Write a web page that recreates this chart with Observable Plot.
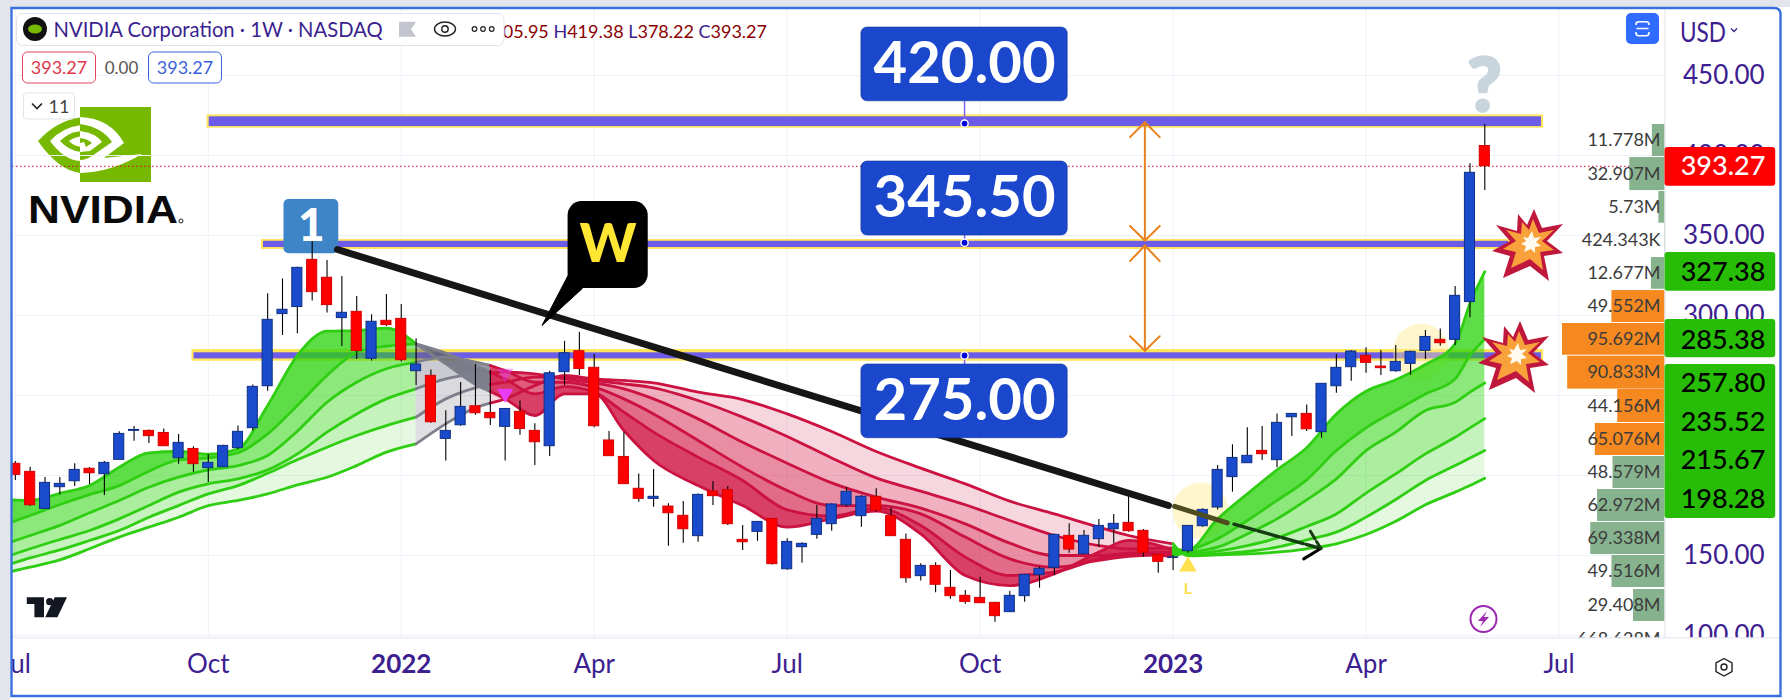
<!DOCTYPE html>
<html><head><meta charset="utf-8">
<script src="https://cdn.jsdelivr.net/npm/d3@7"></script>
<script src="https://cdn.jsdelivr.net/npm/@observablehq/plot@0.6"></script>
<style>
html,body{margin:0;padding:0;background:#fff;width:1790px;height:700px;overflow:hidden}
#wrap{position:relative;width:1790px;height:700px}
#under,#over{position:absolute;left:0;top:0}
#under{z-index:0}#over{z-index:2;pointer-events:none}
#chart{position:absolute;left:0;top:0;z-index:1}
#chart svg{display:block}
text{font-family:Lato,sans-serif}
</style></head><body>
<div id="wrap">
<svg id="under" width="1790" height="700" viewBox="0 0 1790 700">
  <defs>
    <clipPath id="lh"><rect x="30" y="100" width="50" height="90"/></clipPath>
    <clipPath id="rh"><rect x="80" y="100" width="75" height="90"/></clipPath>
  </defs>
  <rect x="80" y="107" width="71" height="75" fill="#76b900"/>
  <g clip-path="url(#lh)">
    <path d="M38,141 Q58,119 84,117 Q110,118 124,143 L142,154 Q112,172 80,173 Q58,170 38,141Z" fill="#76b900"/>
    <path d="M50,141 Q64,126 84,125 Q100,128 110,141 Q96,160 80,161 Q64,160 50,141Z" fill="#fff"/>
    <path d="M60,141 Q70,131 84,131 L84,152 Q70,152 60,141Z" fill="#76b900"/>
    <path d="M69,141 Q74,137 84,136 L84,147 Q74,147 69,141Z" fill="#fff"/>
  </g>
  <g clip-path="url(#rh)">
    <path d="M38,141 Q58,119 80,117 Q110,118 124,143 L104,158 L142,154 Q112,172 80,173Z" fill="#fff"/>
    <path d="M60,141 Q70,127 80,124 Q102,127 112,142 L92,156 Q86,160 80,160Z" fill="#76b900"/>
    <path d="M80,131 Q96,133 102,142 L90,151 L80,152Z" fill="#fff"/>
    <path d="M80,138 Q88,139 92,143 L86,147 L84,142 L80,143Z" fill="#76b900"/>
  </g>
  <text x="28" y="223" font-size="38" font-weight="900" fill="#0a0a0a" textLength="150" lengthAdjust="spacingAndGlyphs" style="font-family:'Liberation Sans'">NVIDIA</text>
  <circle cx="181" cy="221" r="2" fill="none" stroke="#222"/>
  <path d="M26.8,597.3H44V617.3H34.4V604H26.8Z M67,597.3L57.4,617.3H45.2L54.7,597.3Z" fill="#131722"/>
  <circle cx="49.7" cy="601.7" r="3.6" fill="#131722"/>
</svg>
<div id="chart"></div>
<svg id="over" width="1790" height="700" viewBox="0 0 1790 700">
  <defs>
    <g id="boom">
      <polygon points="3,-33 11,-14 32,-18 16,-1 32,11 13,14 18,39 -1,24 -28,36 -21,14 -39,9 -21,-1 -35,-17 -14,-11 -13,-28 -4,-17" fill="#c0183c"/>
      <polygon points="2,-23 8,-9 23,-12 11,-1 23,8 9,10 12,28 -1,17 -20,26 -15,10 -28,7 -15,-1 -25,-12 -10,-8 -9,-20 -2,-12" fill="#f9a23c"/>
      <polygon points="1,-11 3,-4 10,-5 5,0 10,4 4,5 4,11 0,7 -7,10 -5,4 -10,2 -5,-1 -8,-5 -3,-4" fill="#fffbee"/>
    </g>
  </defs>
  <use href="#boom" x="1531" y="242"/>
  <use href="#boom" x="1517" y="354"/>
  <circle cx="1483.5" cy="619" r="13" fill="#fff" stroke="#9c27b0" stroke-width="2"/>
  <path d="M1487,611L1478,621H1483L1480,627L1489,617H1484Z" fill="#9c27b0"/>

  <rect x="0" y="0" width="10" height="700" fill="#e2e5ec"/>
  <rect x="0" y="0" width="1790" height="7" fill="#e2e5ec"/>
  <path d="M11.5,696V8H1774Q1780.5,8 1780.5,14V696Z" fill="none" stroke="#3b6fdc" stroke-width="2.4"/>

  <text text-anchor="end" x="767" y="38" font-size="18"><tspan fill="#3d2090">O</tspan><tspan fill="#8b0000">405.95 </tspan><tspan fill="#3d2090">H</tspan><tspan fill="#8b0000">419.38 </tspan><tspan fill="#3d2090">L</tspan><tspan fill="#8b0000">378.22 </tspan><tspan fill="#3d2090">C</tspan><tspan fill="#8b0000">393.27</tspan></text>
  <rect x="16.5" y="13.5" width="487.5" height="32" rx="6" fill="#fff" stroke="#e0e3eb"/>
  <circle cx="35" cy="29" r="12" fill="#111"/>
  <ellipse cx="35" cy="29" rx="7" ry="4.5" fill="#76b900"/>
  <text x="53.6" y="37" font-size="21" fill="#3b1f8f" textLength="329" lengthAdjust="spacingAndGlyphs">NVIDIA Corporation · 1W · NASDAQ</text>
  <path d="M399,21.7H416L411,29.2L416,36.7H399Z" fill="#c3c6ce"/>
  <ellipse cx="445" cy="29" rx="10.5" ry="7" fill="none" stroke="#222" stroke-width="1.4"/>
  <circle cx="445" cy="29" r="3.2" fill="none" stroke="#222" stroke-width="1.4"/>
  <circle cx="474.5" cy="29" r="2.3" fill="none" stroke="#222" stroke-width="1.2"/>
  <circle cx="483" cy="29" r="2.3" fill="none" stroke="#222" stroke-width="1.2"/>
  <circle cx="491.7" cy="29" r="2.3" fill="none" stroke="#222" stroke-width="1.2"/>

  <rect x="22.5" y="52" width="73" height="31" rx="5" fill="#fff" stroke="#e2445c"/>
  <text x="59" y="74" text-anchor="middle" font-size="18" fill="#e0354a">393.27</text>
  <text x="121.5" y="74" text-anchor="middle" font-size="17" fill="#555">0.00</text>
  <rect x="148.5" y="52" width="73" height="31" rx="5" fill="#fff" stroke="#3a62d8"/>
  <text x="185" y="74" text-anchor="middle" font-size="18" fill="#3a62d8">393.27</text>
  <rect x="23.5" y="93" width="51" height="26" rx="3" fill="#fff" stroke="#e0e3eb"/>
  <path d="M32,103.5L37,108.5L42,103.5" fill="none" stroke="#222" stroke-width="1.6"/>
  <text x="59" y="113" text-anchor="middle" font-size="18" fill="#444">11</text>

  <rect x="1626" y="13" width="33" height="31" rx="5" fill="#2f6bff"/>
  <path d="M1636,25V24Q1636,21.7 1639,21.7H1646Q1649,21.7 1649,24V25 M1636,32V33Q1636,35.7 1639,35.7H1646Q1649,35.7 1649,33V32 M1636.5,28.5H1648.5" fill="none" stroke="#fff" stroke-width="1.6"/>
  <text x="1680" y="42" font-size="27" fill="#3d2090" textLength="46" lengthAdjust="spacingAndGlyphs">USD</text>
  <path d="M1731,28.5L1734,31.5L1737,28.5" fill="none" stroke="#3d2090" stroke-width="1.3"/>
  <path d="M1724,658.5L1732,663V671.5L1724,676L1716,671.5V663Z" fill="none" stroke="#222" stroke-width="1.4"/>
  <circle cx="1724" cy="667" r="3" fill="none" stroke="#222" stroke-width="1.4"/>
</svg>
</div>
<script>
// Weekly bars, week 0 is the bar of 4 Oct 2021
const firstWeek = -13;
const opens = [
207.3,202.3,179.1,192.7,196.4,204.2,200.8,209.8,227.9,227.9,
226.6,210.8,216.6,204.6,205.2,217.1,229.6,255.8,300.9,305.3,
334.8,323.6,298.4,302.3,273.0,296.7,297.9,265.2,262.3,222.9,
231.4,243.3,239.1,230.4,239.8,227.9,218.3,264.6,277.7,267.3,
221.9,211.6,191.7,185.4,180.6,174.8,162.1,190.0,191.0,159.8,
164.8,172.9,141.4,155.2,162.9,169.6,181.4,174.6,186.7,174.6,
159.8,137.1,143.5,129.8,124.8,123.5,120.4,114.6,124.6,137.7,
142.3,162.3,150.8,160.2,166.4,170.4,165.4,150.4,148.5,152.7,
168.3,180.0,199.0,207.7,215.4,209.6,236.4,238.5,227.1,255.8,
267.7,274.8,268.1,265.2,269.8,277.9,284.8,284.8,308.4,405.95];
const highs = [
208.7,205.2,198.7,198.7,207.3,205.0,208.7,227.3,230.6,228.5,
229.1,225.6,217.9,213.1,218.9,231.0,256.6,313.6,322.9,330.2,
346.3,334.4,324.4,311.9,300.5,313.2,306.9,285.5,266.0,240.4,
258.1,269.4,265.6,241.6,246.6,232.3,265.2,283.9,289.6,275.6,
227.5,226.9,201.0,203.7,182.3,183.7,188.5,196.2,193.1,168.7,
171.0,172.9,160.4,157.9,181.2,182.3,192.5,187.5,191.7,179.6,
163.5,144.8,145.4,140.6,128.1,136.4,120.8,127.5,138.1,142.7,
163.5,169.8,165.6,172.5,175.6,187.1,166.2,150.6,150.0,168.7,
179.2,206.2,219.2,229.8,230.6,238.5,238.5,244.1,257.3,275.6,
278.1,279.8,278.1,281.2,277.7,290.6,291.6,318.2,394.8,419.38];
const lows = [
196.9,180.6,179.1,187.9,193.1,194.4,187.5,209.8,221.4,220.0,
218.3,207.1,202.1,195.6,205.2,216.2,227.9,252.7,287.5,288.6,
309.0,301.5,280.7,272.5,271.5,293.2,270.9,256.2,232.7,209.0,
230.8,237.7,231.2,209.0,225.2,206.2,211.9,256.2,262.5,229.8,
212.1,194.6,183.3,180.2,155.8,157.7,158.3,181.2,168.7,153.1,
158.9,144.0,140.8,145.2,160.2,165.2,180.2,167.7,177.1,162.1,
132.7,134.0,126.7,122.7,119.6,120.2,108.3,114.6,120.8,129.6,
137.7,151.4,150.8,155.2,157.3,164.6,149.0,138.9,140.6,151.4,
167.7,178.5,189.6,207.7,209.4,204.8,224.4,227.5,223.3,251.4,
258.9,263.9,262.5,264.6,262.7,272.5,280.8,281.3,298.6,378.22];
const closes = [
200.4,181.4,195.4,194.8,203.5,201.4,207.9,226.0,228.5,224.6,
218.3,220.4,207.1,207.9,218.5,227.3,255.4,297.3,303.6,329.8,
314.6,306.5,301.7,277.8,296.1,294.0,272.1,269.4,233.3,227.9,
242.9,238.9,235.8,241.6,229.1,220.8,263.9,276.4,266.6,230.8,
212.1,194.6,185.4,186.7,176.4,166.4,187.9,187.1,169.6,158.3,
171.0,144.6,158.5,157.3,172.9,181.9,189.8,186.7,178.1,162.1,
135.8,143.5,131.7,124.6,121.0,120.2,112.1,124.8,137.9,141.7,
162.9,153.7,162.3,168.5,169.8,165.2,151.7,146.0,148.8,168.5,
178.5,203.5,211.0,212.3,213.3,232.9,238.5,228.9,257.3,267.3,
277.5,270.4,267.1,271.0,277.3,286.6,282.7,312.3,389.2,393.27];

// Moving-average ribbon read at these weeks
const ribbonWeeks = [-14,-12,-10,-8,-6,-4,-2,0,2,4,6,8,10,12,14, 16,18,19,
 20,22,24,26,28,30,33,36,39,42,45,48,51,54,57,60,62,65,
 66,68,70,72,74,76,78,80,82,84,85,86];
const ribbon1 = [185.0,184.4,188.9,193.7,205.2,214.2,215.0,213.3,216.7,243.8,275.0,290.2,290.6,292.1,282.3, 269.8,256.9,252.5,
 247.9,237.5,251.0,251.0,228.1,209.4,193.7,181.2,167.7,172.9,177.7,163.5,137.5,131.2,138.5,152.1,159.4,153.5,
 153.5,172.9,188.5,203.5,217.3,238.5,252.7,259.8,269.4,282.3,307.5,327.38];
const ribbon2 = [168.3,175.0,181.9,188.1,193.7,202.7,209.8,211.0,214.2,226.0,243.8,262.5,277.1,280.8,282.3, 276.5,268.8,264.6,
 260.4,251.0,255.6,252.1,239.6,227.1,211.5,196.9,178.5,174.6,179.8,168.8,149.0,137.5,139.6,147.9,151.0,149.4,
 152.7,160.4,171.9,184.4,197.3,215.6,229.8,240.6,251.0,260.4,275.0,285.38];
const ribbon3 = [156.2,162.5,168.8,176.7,184.4,192.7,199.0,203.5,206.2,212.5,227.7,245.8,258.3,266.7,270.8, 274.0,270.8,268.8,
 265.6,258.3,258.3,255.2,247.9,238.5,221.9,205.2,190.6,181.2,181.2,176.0,161.5,147.9,142.7,146.9,149.4,150.6,
 151.9,155.2,163.5,172.9,184.8,197.9,215.6,227.1,240.6,245.8,252.1,257.80];
const ribbon4 = [147.9,154.2,160.0,165.6,172.9,181.2,189.6,194.8,197.9,203.5,213.5,227.1,238.5,247.9,254.2, 260.4,263.5,264.2,
 264.6,263.5,260.4,257.9,254.2,247.9,235.4,220.8,207.7,195.4,186.5,179.6,169.8,157.7,150.0,150.0,151.4,152.1,
 151.0,152.7,156.2,161.0,168.1,176.0,189.0,201.0,213.5,223.9,229.8,235.52];
const ribbon5 = [142.7,148.5,153.5,159.4,165.6,173.9,181.2,188.5,193.7,201.4,209.8,217.7,225.0,231.2,236.5, 247.9,254.8,256.9,
 258.3,261.5,261.5,259.4,257.3,254.8,246.9,236.5,224.4,211.0,198.5,190.2,181.7,171.9,162.5,156.2,154.2,154.8,
 150.4,151.0,152.5,155.2,159.8,164.6,174.0,185.0,196.9,206.2,211.0,215.67];
const ribbon6 = [138.6,142.7,147.3,154.2,161.5,167.7,173.9,181.2,184.4,188.5,194.1,198.9,206.2,214.6,219.8, 232.3,242.3,245.2,
 247.9,256.2,262.5,260.4,259.4,257.9,252.1,247.5,238.5,227.5,215.0,204.6,194.8,184.0,176.0,167.7,162.5,157.3,
 149.8,150.4,151.0,152.1,154.2,157.3,163.1,171.4,181.7,189.6,193.7,198.28];

// Visible-range volume profile
const volumeTops    = [419.4,398.75,377.5,357.5,336.25,315.6,295,274.6,253.75,232.5,211.9,191.25,170.6,150,128.75,108.1];
const volumeBottoms = [399.4,378.1,357.7,336.9,316.4,295.6,275.2,254,233.1,212.5,191.9,171.25,150.6,130,108.75,87.5];
const volumes       = [11.778,32.907,5.73,0.424,12.677,49.552,95.692,90.833,44.156,65.076,48.579,62.972,69.338,49.516,29.408,0];
const volumeLabels  = ["11.778M","32.907M","5.73M","424.343K","12.677M","49.552M","95.692M","90.833M","44.156M","65.076M","48.579M","62.972M","69.338M","49.516M","29.408M","668.628M"];
const volumeColors  = ["#86b38e","#86b38e","#86b38e","#86b38e","#86b38e","#f5891f","#f5891f","#f5891f","#f5891f","#f5891f","#86b38e","#86b38e","#86b38e","#86b38e","#86b38e","#86b38e"];

const priceTicks = [100,150,200,250,300,350,400,450];
const monthTicks = [[-13,"Jul"],[0,"Oct"],[26,"Apr"],[39,"Jul"],[52,"Oct"],[78,"Apr"],[91,"Jul"]];
const yearTicks  = [[13,"2022"],[65,"2023"]];
const levelValues = [420,345.5,275];
const levelLabels = ["420.00","345.50","275.00"];
const levelBoxTop = [480,396.25,269.4];
const levelBoxBottom = [433.9,350,223.3];
const bandLefts = [-0.08,3.58,-1.1];
const bandRights = [89.96,87.75,89.96];
const bandOuterTop = [425.4,347.5,278.75];
const bandOuterBottom = [417.1,341.25,271.4];
const bandInnerTop = [424.2,346.4,276.7];
const bandInnerBottom = [418.1,342.5,272.9];
const tagText = ["393.27","327.38","285.38","257.80","235.52","215.67","198.28"];
const tagTextPrice = [393.0,326.9,284.6,257.5,233.3,209.4,185];
const tagBoxes = [[405,380.8,"#ff0000"],[339.4,315.2,"#27bd07"],[297.5,273.6,"#27bd07"],[269.4,173.1,"#27bd07"]];

const DAY = 864e5, WEEK0 = Date.UTC(2021,9,4);
const wk = w => new Date(WEEK0 + w*7*DAY);
const leftEdge = -13.19, axisEdge = 98.14, pageEdge = 105.6;
const INK = "#3d2090";

const candles = opens.map((o,i)=>({w:firstWeek+i,o,h:highs[i],l:lows[i],c:closes[i]}));
const lines = [ribbon1,ribbon2,ribbon3,ribbon4,ribbon5,ribbon6];
const knots = ribbonWeeks.map((w,i)=>({w,v:lines.map(l=>l[i])}));
const segs = [
 {a:-14,b:14,color:"#2bd40c",line:"#2fce12",op:[.76,.54,.4,.27,.13]},
 {a:14,b:19,color:"#646674",line:"#7d7f8b",op:[.78,.5,.34,.24,.2]},
 {a:19,b:65,color:"#d01040",line:"#cb1240",op:[.8,.62,.48,.33,.17]},
 {a:65,b:86,color:"#2bd40c",line:"#2fce12",op:[.76,.54,.4,.27,.13]}
];
const ribbonMarks = segs.flatMap(s=>{
  const d = knots.filter(k=>k.w>=s.a&&k.w<=s.b);
  const fills = s.op.map((op,i)=>Plot.areaY(d,{x:k=>wk(k.w),y1:k=>k.v[i],y2:k=>k.v[i+1],fill:s.color,fillOpacity:op,curve:"monotone-x",clip:true}));
  const ls = lines.map((_,i)=>Plot.line(d,{x:k=>wk(k.w),y:k=>k.v[i],stroke:s.line,strokeWidth:2.8,curve:"monotone-x",clip:true}));
  return [...fills,...ls];
});

const pxPerMillionWeeks = 0.07216;
const vol = volumes.map((v,i)=>({v,t:volumeTops[i],b:volumeBottoms[i],label:volumeLabels[i],color:volumeColors[i]}));

const level = levelValues.map((v,i)=>({v,label:levelLabels[i],top:levelBoxTop[i],bot:levelBoxBottom[i]}));
const band = levelValues.map((v,i)=>({a:bandLefts[i],b:bandRights[i],ot:bandOuterTop[i],ob:bandOuterBottom[i],it:bandInnerTop[i],ib:bandInnerBottom[i]}));
const levelWeek = 50.95;

const rangeArrow = [
 {id:"s1",w:63.1,p:420.8},{id:"s1",w:63.1,p:346.9},
 {id:"s2",w:63.1,p:343.75},{id:"s2",w:63.1,p:278},
 {id:"h1",w:62.1,p:411.5},{id:"h1",w:63.1,p:420.8},{id:"h1",w:64.1,p:411.5},
 {id:"h2",w:62.1,p:356},{id:"h2",w:63.1,p:346.9},{id:"h2",w:64.1,p:356},
 {id:"h3",w:62.1,p:334},{id:"h3",w:63.1,p:343.75},{id:"h3",w:64.1,p:334},
 {id:"h4",w:62.1,p:287},{id:"h4",w:63.1,p:278},{id:"h4",w:64.1,p:287}
];
const calloutTail = [{w:24.24,p:325},{w:22.48,p:293.75},{w:25.2,p:316.9}];

const chart = Plot.plot({
  width:1790,height:700,marginLeft:12,marginRight:125.5,marginTop:8,marginBottom:63,
  style:{background:"transparent",fontFamily:"Lato, sans-serif",overflow:"visible"},
  x:{type:"utc",domain:[wk(leftEdge),wk(axisEdge)]},
  y:{domain:[98.75,491.9]},
  marks:[
    Plot.gridY(priceTicks,{stroke:"#eef1f7",strokeOpacity:1}),
    Plot.gridX([...monthTicks,...yearTicks].map(d=>wk(d[0])),{stroke:"#eef1f7",strokeOpacity:1}),
    // levels
    Plot.rect(band,{x1:d=>wk(d.a),x2:d=>wk(d.b),y1:"ob",y2:"ot",fill:"#ffe45c"}),
    Plot.rect(band,{x1:d=>wk(d.a+.14),x2:d=>wk(d.b-.14),y1:"ib",y2:"it",fill:"#6c5ce7"}),
    Plot.ruleY([393.27],{stroke:"#d5002f",strokeWidth:1,strokeDasharray:"1.5,2.5"}),
    Plot.dot([{w:66.85,p:178.1},{w:81.7,p:277.5}],{x:d=>wk(d.w),y:"p",r:28,fill:"#ffeb90",fillOpacity:.45}),
    // volume profile
    Plot.rect(vol,{x1:d=>wk(axisEdge-d.v*pxPerMillionWeeks),x2:wk(axisEdge),y1:"b",y2:"t",fill:"color"}),
    Plot.text(vol,{x:wk(axisEdge-.3),y:d=>(d.t+d.b)/2,text:"label",textAnchor:"end",fontSize:18,fill:"#3c3c3c"}),
    // callout 1
    Plot.rect([{}],{x1:wk(5.1),x2:wk(8.79),y1:338.6,y2:372.5,fill:"#3d85c6",rx:5}),
    Plot.text([{}],{x:wk(6.94),y:356,text:["1"],fontSize:46,fontWeight:900,fill:"#fff"}),
    ...ribbonMarks,
    // candles
    Plot.ruleX(candles,{x:d=>wk(d.w),y1:"l",y2:"h",stroke:"#000",strokeWidth:1.1,clip:true}),
    Plot.rect(candles,{x1:d=>wk(d.w-.34),x2:d=>wk(d.w+.34),y1:"o",y2:"c",
      fill:d=>d.c>=d.o?"#1a4bcc":"#ff0000",stroke:d=>d.c>=d.o?"#0f2f86":"#d40000",strokeWidth:1,clip:true}),
    // trend line
    Plot.line([{w:8.7,p:341.25},{w:64.69,p:181.25}],{x:d=>wk(d.w),y:"p",stroke:"#161616",strokeWidth:7}),
    Plot.line([{w:65.1,p:180.7},{w:68.65,p:170.4}],{x:d=>wk(d.w),y:"p",stroke:"#4d4d20",strokeWidth:5}),
    Plot.line([{w:69.1,p:169.6},{w:74.95,p:154.4}],{x:d=>wk(d.w),y:"p",stroke:"#163c12",strokeWidth:3.4,strokeDasharray:"22,3"}),
    Plot.line([{w:73.8,p:147.9},{w:74.95,p:154.4}],{x:d=>wk(d.w),y:"p",stroke:"#000",strokeWidth:3}),
    Plot.line([{w:74.25,p:165.2},{w:74.95,p:154.4}],{x:d=>wk(d.w),y:"p",stroke:"#163c12",strokeWidth:3,strokeDasharray:"9,3"}),
    // callout W
    Plot.line(calloutTail,{x:d=>wk(d.w),y:"p",fill:"#000",stroke:"#000",strokeWidth:1}),
    Plot.rect([{}],{x1:wk(24.24),x2:wk(29.64),y1:316.9,y2:371.25,fill:"#000",rx:14}),
    Plot.text([{}],{x:wk(26.93),y:344.5,text:["W"],fontSize:54,fontWeight:900,fill:"#ffe633"}),
    // orange range arrows
    Plot.line(rangeArrow,{x:d=>wk(d.w),y:"p",z:"id",stroke:"#e8821e",strokeWidth:2}),
    // level labels
    Plot.ruleX(level,{x:wk(levelWeek),y1:"v",y2:d=>d.v===275?d.top:d.bot,stroke:"#7b68ee",strokeWidth:1.5}),
    Plot.rect(level,{x1:wk(44.0),x2:wk(57.9),y1:"bot",y2:"top",fill:"#1a47cc",stroke:"#12339a",strokeWidth:.6,rx:6}),
    Plot.text(level,{x:wk(levelWeek),y:d=>(d.top+d.bot)/2,text:"label",fontSize:58,fontWeight:700,fill:"#fff"}),
    Plot.dot(level,{x:wk(levelWeek),y:"v",r:3.6,fill:"#0000dd",stroke:"#fff",strokeWidth:1.4}),
    // marks on the chart
    Plot.text([{}],{x:wk(85.97),y:442.5,text:["?"],fontSize:74,fontWeight:900,fill:"#c9d5dd",stroke:"#c9d5dd",strokeWidth:2.5}),
    Plot.dot([{p:251.25,o:1},{p:263.75,o:.45}],{x:wk(20),y:"p",symbol:"triangle",rotate:180,r:6,fill:"#e93cf5",fillOpacity:"o"}),
    Plot.dot([{}],{x:wk(66),y:143.1,symbol:"triangle",r:6.5,fill:"#ffe14d"}),
    Plot.text([{}],{x:wk(66),y:129.4,text:["L"],fontSize:16,fontWeight:700,fill:"#ffe14d"}),
    // price axis
    Plot.ruleX([wk(axisEdge)],{y1:61.9,y2:491.9,stroke:"#e0e3eb"}),
    Plot.axisY(priceTicks,{anchor:"right",tickSize:0,tickPadding:18,fontSize:26,fill:INK,tickFormat:d=>d.toFixed(2),label:null}),
    Plot.rect([{}],{x1:wk(leftEdge),x2:wk(pageEdge+1),y1:98.4,y2:62,fill:"#fff"}),
    Plot.ruleY([98.5],{x1:wk(leftEdge),x2:wk(pageEdge+.4),stroke:"#e0e3eb"}),
    // price tags
    Plot.rect(tagBoxes,{x1:wk(axisEdge),x2:wk(pageEdge),y1:d=>d[1],y2:d=>d[0],fill:d=>d[2],rx:3}),
    Plot.text(tagText,{x:wk(102.05),y:(d,i)=>tagTextPrice[i],text:d=>d,fontSize:27,fontWeight:500,fill:(d,i)=>i===0?"#fff":"#000"}),
    // time axis
    Plot.axisX(monthTicks.map(d=>wk(d[0])),{tickSize:0,tickPadding:17,fontSize:26,fill:INK,label:null,
      tickFormat:d=>monthTicks.find(m=>+wk(m[0])===+d)[1]}),
    Plot.axisX(yearTicks.map(d=>wk(d[0])),{tickSize:0,tickPadding:17,fontSize:26,fontWeight:700,fill:INK,label:null,
      tickFormat:d=>yearTicks.find(m=>+wk(m[0])===+d)[1]})
  ]
});
document.getElementById("chart").append(chart);
</script>
</body></html>
